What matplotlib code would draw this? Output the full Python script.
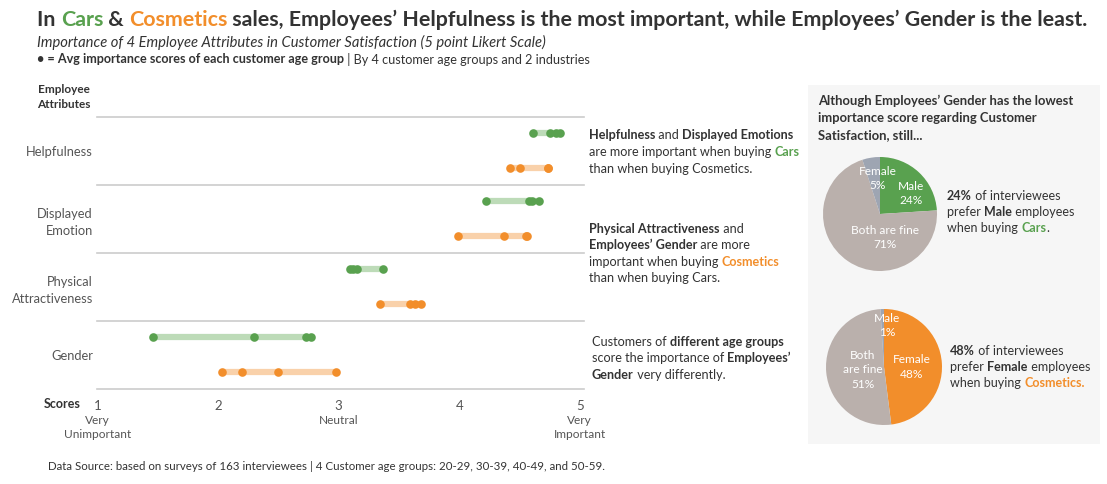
import matplotlib
matplotlib.use("Agg")
import matplotlib.pyplot as plt
from matplotlib.patches import Rectangle

plt.rcParams['font.family'] = ['Lato', 'DejaVu Sans']

# ---- data ----
attributes = ['Helpfulness', 'Displayed\nEmotion', 'Physical\nAttractiveness', 'Gender']
cars_scores = [
    [4.61, 4.75, 4.80, 4.84],
    [4.22, 4.58, 4.60, 4.66],
    [3.09, 3.12, 3.15, 3.37],
    [1.46, 2.30, 2.73, 2.77],
]
cosmetics_scores = [
    [4.42, 4.50, 4.74, 4.74],
    [3.99, 4.37, 4.55, 4.56],
    [3.34, 3.59, 3.63, 3.68],
    [2.03, 2.20, 2.50, 2.98],
]
score_ticks = [1, 2, 3, 4, 5]
score_notes = {1: 'Very\nUnimportant', 3: 'Neutral', 5: 'Very\nImportant'}

cars_pie_labels = ['Male', 'Both are fine', 'Female']
cars_pie_values = [24, 71, 5]
cosm_pie_labels = ['Female', 'Both\nare fine', 'Male']
cosm_pie_values = [48, 51, 1]

GREEN = '#59a14f'
ORANGE = '#f28e2b'
LGREEN = '#bddbb8'
LORANGE = '#f9d1aa'
DARK = '#333333'
GREY = '#555555'
BOTH = '#bab0ac'
SMALL = '#9ea5b2'

W, H = 1107, 484
fig = plt.figure(figsize=(W / 100, H / 100), dpi=100)
renderer = fig.canvas.get_renderer()


def fx(x):
    return x / W


def fy(y):
    return 1 - y / H


def rich(x, y, parts, size, style='normal'):
    # draw a line of text made of coloured / bold pieces
    for txt, color, weight in parts:
        t = fig.text(fx(x), fy(y), txt, color=color, fontweight=weight,
                     fontsize=size, fontstyle=style, va='center', ha='left')
        x += t.get_window_extent(renderer).width


# ---- titles ----
rich(37, 20, [('In ', DARK, 'bold'), ('Cars', GREEN, 'bold'), (' & ', DARK, 'bold'),
              ('Cosmetics', ORANGE, 'bold'),
              (' sales, Employees\u2019 Helpfulness is the most important, while Employees\u2019 Gender is the least.', DARK, 'bold')], 15.4)
rich(37, 42, [('Importance of 4 Employee Attributes in Customer Satisfaction (5 point Likert Scale)', DARK, 'normal')], 10.6, style='italic')
rich(37, 59, [('\u2022 = Avg importance scores of each customer age group', DARK, 'bold'),
              (' | By 4 customer age groups and 2 industries', DARK, 'normal')], 9.1)

# ---- dumbbell panel ----
ax = fig.add_axes([fx(97), fy(389), fx(584 - 97), (389 - 117) / H])
for i in range(len(attributes)):
    for vals, y, light, dark in [(cars_scores[i], i + 0.24, LGREEN, GREEN),
                                 (cosmetics_scores[i], i + 0.75, LORANGE, ORANGE)]:
        ax.plot([min(vals), max(vals)], [y, y], color=light, lw=4.5,
                solid_capstyle='butt', zorder=2)
        ax.plot(vals, [y] * len(vals), 'o', color=dark, ms=6.2, mew=0, zorder=3)
for k in range(len(attributes) + 1):
    ax.axhline(k, color='#cccccc', lw=1.2, zorder=1, clip_on=False)
ax.set_xlim(0.995, 5.035)
ax.set_ylim(len(attributes), 0)
for s in ax.spines.values():
    s.set_visible(False)
ax.set_yticks([i + 0.5 for i in range(len(attributes))])
ax.set_yticklabels(attributes, fontsize=9.3, color=GREY, linespacing=1.5)
ax.set_xticks(score_ticks)
ax.set_xticklabels([str(s) for s in score_ticks], fontsize=9.5, color=GREY)
ax.tick_params(length=0, pad=8)
ax.tick_params(axis='y', pad=3)
for s, note in score_notes.items():
    ax.text(s, 4.38, note, ha='center', va='top', fontsize=8.6, color=GREY,
            linespacing=1.3, clip_on=False)
fig.text(fx(81), fy(404), 'Scores', fontsize=9, fontweight='bold', color=DARK, ha='right', va='center')
fig.text(fx(64), fy(97), 'Employee\nAttributes', fontsize=8.5, fontweight='bold', color=DARK,
         ha='center', va='center', linespacing=1.35)

# ---- annotations ----
rich(589, 135, [('Helpfulness', DARK, 'bold'), (' and ', DARK, 'normal'), ('Displayed Emotions', DARK, 'bold')], 9.1)
rich(589, 152, [('are more important when buying ', DARK, 'normal'), ('Cars', GREEN, 'bold')], 9.1)
rich(589, 169, [('than when buying Cosmetics.', DARK, 'normal')], 9.1)

rich(589, 229, [('Physical Attractiveness', DARK, 'bold'), (' and', DARK, 'normal')], 9.1)
rich(589, 245, [('Employees\u2019 Gender', DARK, 'bold'), (' are more', DARK, 'normal')], 9.1)
rich(589, 262, [('important when buying ', DARK, 'normal'), ('Cosmetics', ORANGE, 'bold')], 9.1)
rich(589, 278, [('than when buying Cars.', DARK, 'normal')], 9.1)

rich(592, 342, [('Customers of ', DARK, 'normal'), ('different age groups', DARK, 'bold')], 9.1)
rich(592, 358, [('score the importance of ', DARK, 'normal'), ('Employees\u2019', DARK, 'bold')], 9.1)
rich(592, 375, [('Gender', DARK, 'bold'), (' very differently.', DARK, 'normal')], 9.1)

# ---- right panel ----
fig.patches.append(Rectangle((fx(808), fy(444)), fx(1100 - 808), (444 - 85) / H,
                             transform=fig.transFigure, facecolor='#f6f6f6',
                             edgecolor='none', zorder=-1))
rich(818, 101, [('Although Employees\u2019 Gender has the lowest', DARK, 'bold')], 9.4)
rich(818, 118, [('importance score regarding Customer', DARK, 'bold')], 9.4)
rich(818, 135, [('Satisfaction, still...', DARK, 'bold')], 9.4)


def draw_pie(cx, cy, r, values, colors, labels, label_pos):
    pax = fig.add_axes([fx(cx - r), fy(cy + r), 2 * r / W, 2 * r / H])
    pax.pie(values, colors=colors, startangle=90, counterclock=False,
            wedgeprops=dict(linewidth=0))
    pax.set_xlim(-1, 1)
    pax.set_ylim(-1, 1)
    pax.set_aspect('equal')
    for lab, v, (px, py) in zip(labels, values, label_pos):
        pax.text(px, py, f'{lab}\n{v}%', ha='center', va='center', color='white',
                 fontsize=8.6, linespacing=1.35)


draw_pie(880, 214, 57, cars_pie_values, [GREEN, BOTH, SMALL], cars_pie_labels,
         [(0.55, 0.36), (0.09, -0.41), (-0.04, 0.62)])
draw_pie(884, 367, 58, cosm_pie_values, [ORANGE, BOTH, SMALL], cosm_pie_labels,
         [(0.48, 0.0), (-0.37, -0.05), (0.06, 0.72)])

rich(947, 196, [('24%', DARK, 'bold'), (' of interviewees', DARK, 'normal')], 9)
rich(947, 212, [('prefer ', DARK, 'normal'), ('Male', DARK, 'bold'), (' employees', DARK, 'normal')], 9)
rich(947, 228, [('when buying ', DARK, 'normal'), ('Cars', GREEN, 'bold'), ('.', DARK, 'normal')], 9)

rich(950, 351, [('48%', DARK, 'bold'), (' of interviewees', DARK, 'normal')], 9)
rich(950, 367, [('prefer ', DARK, 'normal'), ('Female', DARK, 'bold'), (' employees', DARK, 'normal')], 9)
rich(950, 383, [('when buying ', DARK, 'normal'), ('Cosmetics.', ORANGE, 'bold')], 9)

# ---- footer ----
fig.text(fx(48), fy(467), 'Data Source: based on surveys of 163 interviewees | 4 Customer age groups: 20-29, 30-39, 40-49, and 50-59.',
         fontsize=8.3, color=DARK, ha='left', va='center')

fig.savefig('out.png', dpi=100)
